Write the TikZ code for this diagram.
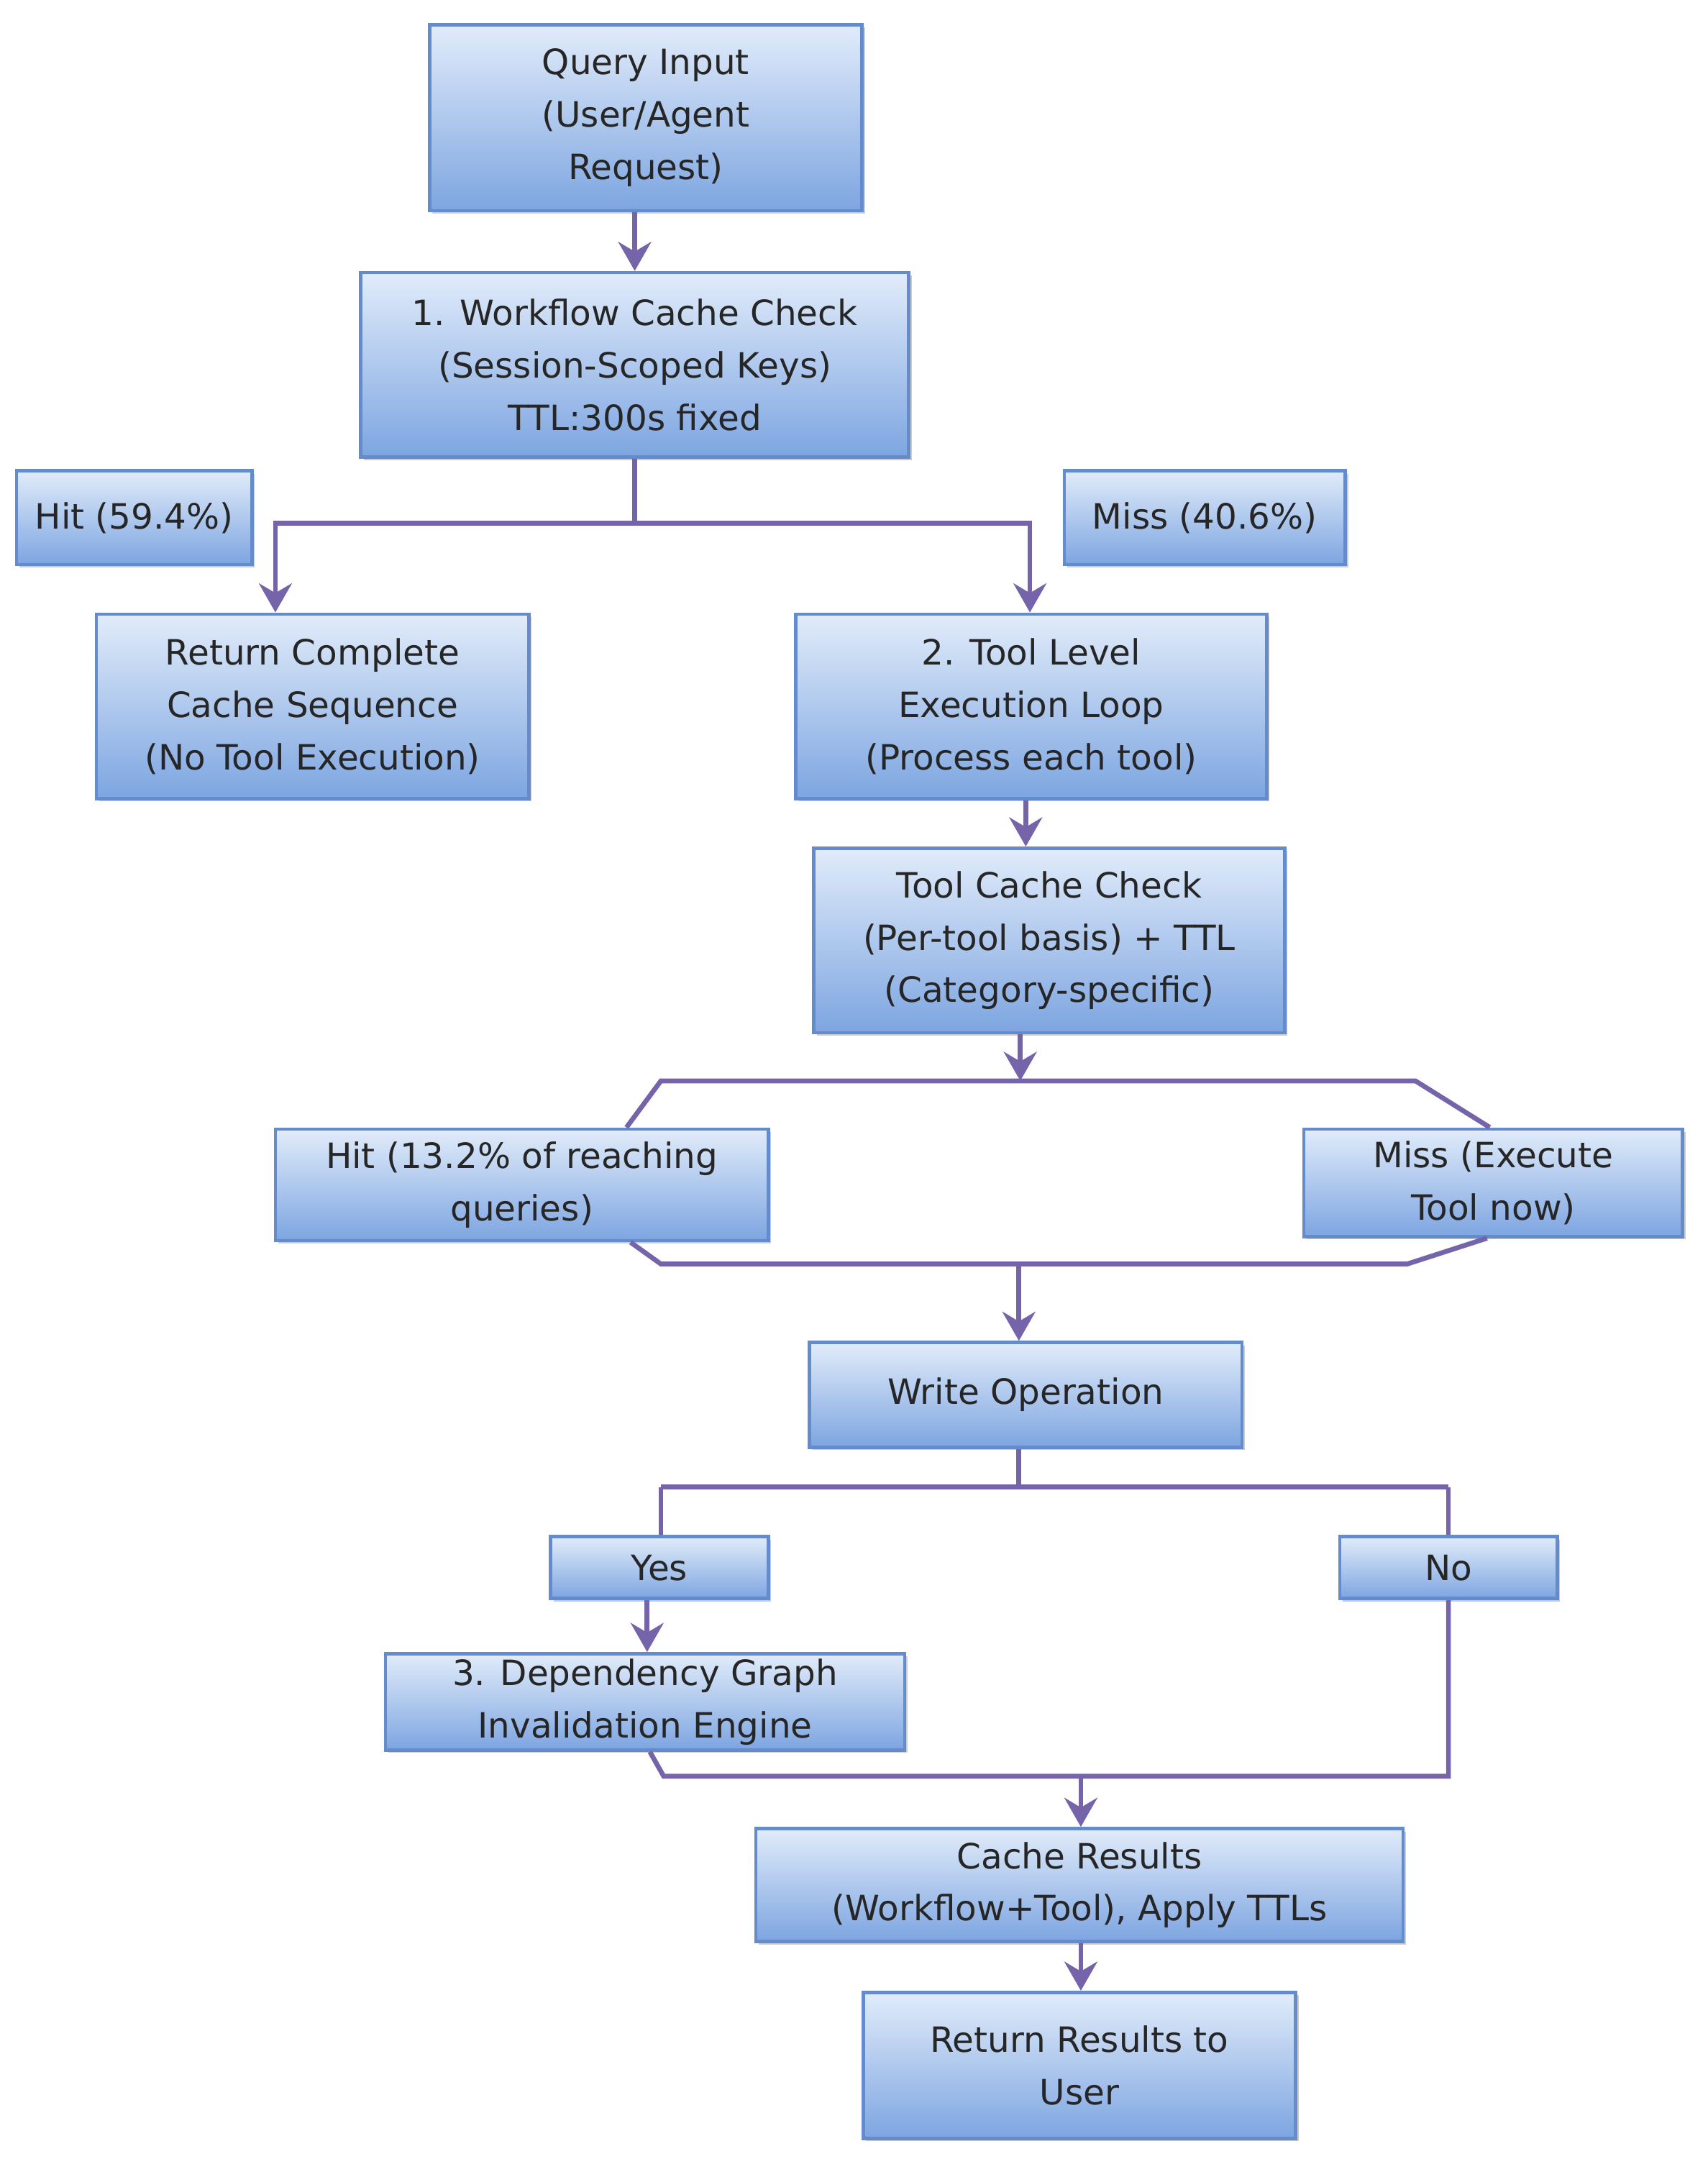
\documentclass[tikz,border=0pt]{standalone}
\usepackage{fontspec}
\setmainfont{DejaVu Sans}
\usetikzlibrary{arrows.meta,shadows}
\definecolor{lnc}{RGB}{118,100,170}
\definecolor{bdc}{RGB}{100,140,205}
\definecolor{topc}{RGB}{225,236,250}
\definecolor{botc}{RGB}{125,165,225}
\begin{document}
\begin{tikzpicture}[x=0.05cm,y=-0.05cm,
  box/.style={draw=bdc,line width=3.5pt,top color=topc,bottom color=botc,
    drop shadow={shadow xshift=3pt,shadow yshift=-3pt,fill=black!40},
    align=center,inner sep=0pt,text=black!85,
    font=\fontsize{36}{54}\selectfont},
  ln/.style={draw=lnc,line width=5pt},
  ar/.style={ln,-{Stealth[length=30pt,width=34pt,inset=10pt]}}]
\useasboundingbox (0,0) rectangle (1240,1568);
\newcommand\bx[6]{\node[box,minimum width={(#3-#2)*0.05cm},minimum height={(#5-#4)*0.05cm}] (#1) at ({(#2+#3)/2},{(#4+#5)/2}) {#6};}
\bx{q}{312}{626}{18}{153}{Query Input\\(User/Agent\\Request)}
\bx{w}{262}{660}{198}{332}{1. Workflow Cache Check\\(Session-Scoped Keys)\\TTL:300s fixed}
\bx{h1}{12}{183}{342}{410}{Hit (59.4\%)}
\bx{m1}{773}{977}{342}{410}{Miss (40.6\%)}
\bx{rc}{70}{384}{446}{580}{Return Complete\\Cache Sequence\\(No Tool Execution)}
\bx{tl}{578}{920}{446}{580}{2. Tool Level\\Execution Loop\\(Process each tool)}
\bx{tc}{591}{933}{616}{750}{Tool Cache Check\\(Per-tool basis) + TTL\\(Category-specific)}
\bx{h2}{200}{558}{820}{901}{Hit (13.2\% of reaching\\queries)}
\bx{m2}{947}{1222}{820}{898}{Miss (Execute\\Tool now)}
\bx{wo}{588}{902}{975}{1051}{Write Operation}
\bx{y}{400}{558}{1116}{1161}{Yes}
\bx{n}{973}{1131}{1116}{1161}{No}
\bx{d}{280}{657}{1201}{1271}{3. Dependency Graph\\Invalidation Engine}
\bx{cr}{549}{1019}{1328}{1410}{Cache Results\\(Workflow+Tool), Apply TTLs}
\bx{rr}{627}{941}{1447}{1553}{Return Results to\\User}
% connectors
\coordinate (j1) at (461,380);
\coordinate (j1l) at (200,380);
\coordinate (j1r) at (748,380);
\draw[ar] (q.south -| 461,0) -- (w.north -| 461,0);
\draw[ln] (w.south -| 461,0) -- (j1);
\draw[ar] (j1) -- (j1l) -- (rc.north -| j1l);
\draw[ar] (j1) -- (j1r) -- (tl.north -| j1r);
\draw[ar] (tl.south -| 745,0) -- (tc.north -| 745,0);
\coordinate (t1) at (741,785);
\coordinate (t1l) at (480,785);
\coordinate (t1r) at (1028,785);
\draw[ar] (tc.south -| t1) -- (t1);
\draw[ln] (h2.north -| 455,0) -- (t1l) -- (t1r) -- (m2.north -| 1082,0);
\coordinate (b1l) at (480,918);
\coordinate (b1r) at (1022,918);
\coordinate (b1) at (740,918);
\draw[ln] (h2.south -| 458,0) -- (b1l) -- (b1r) -- (m2.south -| 1080,0);
\draw[ar] (b1) -- (wo.north -| b1);
\coordinate (j2) at (740,1080);
\coordinate (j2l) at (480,1080);
\coordinate (j2r) at (1052,1080);
\draw[ln] (wo.south -| j2) -- (j2) (j2l) -- (j2r);
\draw[ln] (j2l) -- (y.north -| j2l);
\draw[ln] (j2r) -- (n.north -| j2r);
\draw[ar] (y.south -| 470,0) -- (d.north -| 470,0);
\coordinate (j3l) at (482,1290);
\coordinate (j3r) at (1052,1290);
\coordinate (j3) at (785,1290);
\draw[ln] (d.south -| 472,0) -- (j3l) -- (j3r) -- (n.south -| j3r);
\draw[ar] (j3) -- (cr.north -| j3);
\draw[ar] (cr.south -| j3) -- (rr.north -| j3);
\end{tikzpicture}
\end{document}
